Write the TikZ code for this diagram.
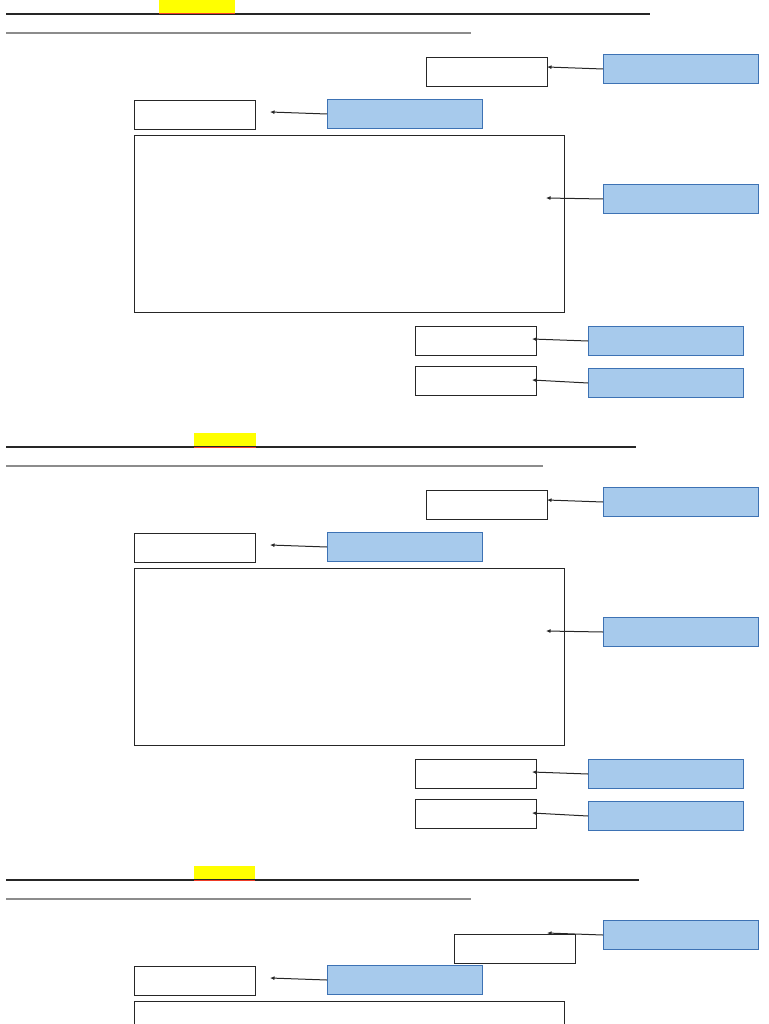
\documentclass[tikz,border=0pt]{standalone}
\usepackage{tikz}
\usetikzlibrary{arrows.meta,positioning}
\definecolor{NoteBlue}{HTML}{A7CAEC}
\definecolor{NoteEdge}{HTML}{3D72B4}
\definecolor{RuleGrey}{HTML}{8C8C8C}
\definecolor{MarkYellow}{HTML}{FFFF00}
\definecolor{MarkRed}{HTML}{F03C28}
\tikzset{
  slot/.style={draw=black!85,line width=1.2pt,fill=white,anchor=north west,
    minimum width=121pt,minimum height=29pt,inner sep=0pt},
  panel/.style={draw=black!85,line width=1.4pt,anchor=north west,
    minimum width=430pt,minimum height=177pt,inner sep=0pt},
  note/.style={draw=NoteEdge,line width=1pt,fill=NoteBlue,anchor=north west,
    minimum width=155pt,minimum height=29pt,inner sep=0pt},
  pointer/.style={-{Latex[length=4.5pt,width=4pt]},line width=1pt,draw=black!85},
  banner/.style={line width=1.3pt,draw=black!85},
  subrule/.style={line width=1.6pt,draw=RuleGrey}
}
\begin{document}
\begin{tikzpicture}[x=1pt,y=-1pt]
  \useasboundingbox (0,0) rectangle (768,1024);
  \clip (0,0) rectangle (768,1024);
  \foreach \s/\yo/\ha/\hb/\la/\lb/\ax/\ay in
    {1/0/159/235/650/471/426/57, 2/433/194/256/636/543/426/57, 3/866/194/255/639/471/454/68}{
    % heading rules
    \fill[MarkYellow] (\ha,\yo) rectangle (\hb,14+\yo);
    \draw[banner] (6,14+\yo) -- (\la,14+\yo);
    \draw[MarkRed,line width=1pt] (\ha,14+\yo) -- (\hb,14+\yo);
    \draw[subrule] (6,33+\yo) -- (\lb,33+\yo);
    % boxes
    \node[slot] (boxA\s) at (\ax,\ay+\yo) {};
    \node[note] (noteA\s) at (603,54+\yo) {};
    \node[slot] (boxB\s) at (134,100+\yo) {};
    \node[note] (noteB\s) at (327,99+\yo) {};
    \node[panel] (main\s) at (134,135+\yo) {};
    \node[note] (noteC\s) at (603,184+\yo) {};
    \node[slot] (boxD\s) at (415,326+\yo) {};
    \node[note] (noteD\s) at (588,326+\yo) {};
    \node[slot] (boxE\s) at (415,366+\yo) {};
    \node[note] (noteE\s) at (588,368+\yo) {};
    % arrows
    \coordinate (tipA\s) at (547,67+\yo);
    \coordinate (tipB\s) at (270,112+\yo);
    \coordinate (tipC\s) at (546,198+\yo);
    \coordinate (tipD\s) at (532,339+\yo);
    \coordinate (tipE\s) at (532,380+\yo);
    \draw[pointer] (noteA\s.west) -- (tipA\s);
    \draw[pointer] (noteB\s.west) -- (tipB\s);
    \draw[pointer] (noteC\s.west) -- (tipC\s);
    \draw[pointer] (noteD\s.west) -- (tipD\s);
    \draw[pointer] (noteE\s.west) -- (tipE\s);
  }
\end{tikzpicture}
\end{document}
